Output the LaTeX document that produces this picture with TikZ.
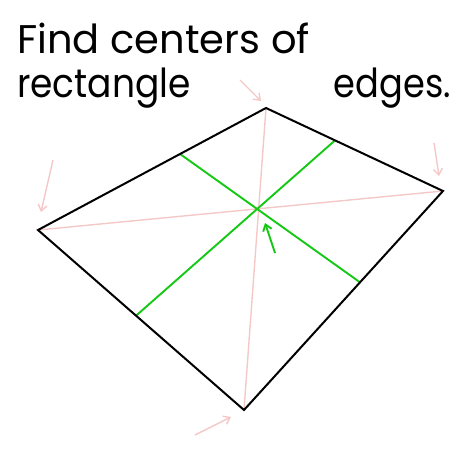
\documentclass[tikz,border=0pt]{standalone}
\usepackage{fontspec}
\setmainfont{Poppins}
\usetikzlibrary{calc,arrows.meta}
\tikzset{
  edge/.style={black, line width=2pt, line join=miter},
  diag/.style={draw={rgb,255:red,245;green,200;blue,200}, line width=1.4pt},
  mid/.style={draw={rgb,255:red,20;green,200;blue,20}, line width=1.9pt},
  pinkarrow/.style={diag, -{Straight Barb[length=6pt,width=9pt]}},
  greenarrow/.style={mid, -{Straight Barb[length=6pt,width=9pt]}},
  title/.style={inner sep=0pt, font=\fontsize{40}{40}\selectfont}
}
\begin{document}
\begin{tikzpicture}[x=1pt,y=-1pt]
\useasboundingbox (0,0) rectangle (474,474);
\coordinate (T) at (266,108);
\coordinate (R) at (443,191);
\coordinate (B) at (244,410);
\coordinate (L) at (38,230);
\node[title, anchor=base west] (t1) at (17,53) {Find centers of};
\node[title, anchor=base west] (t2) at (17,97) {\scalebox{0.9}[1]{rectangle}};
\node[title, anchor=base east] (t3) at (451,97) {\scalebox{0.88}[1]{edges.}};
% diagonals
\draw[diag] (T) -- (B);
\draw[diag] (L) -- (R);
% green lines
\coordinate (g1a) at ($(L)!0.623!(T)$);
\coordinate (g1b) at ($(R)!0.417!(B)$);
\coordinate (g2a) at ($(T)!0.39!(R)$);
\coordinate (g2b) at ($(L)!0.476!(B)$);
\draw[mid] (g1a) -- (g1b);
\draw[mid] (g2a) -- (g2b);
% quadrilateral
\draw[edge] (T) -- (R) -- (B) -- (L) -- cycle;
% arrows
\coordinate (a1s) at (240,80);  \coordinate (a1e) at (261,101);
\coordinate (a2s) at (434,143); \coordinate (a2e) at (439,176);
\coordinate (a3s) at (53,160);  \coordinate (a3e) at (41,212);
\coordinate (a4s) at (195,435); \coordinate (a4e) at (231,417);
\coordinate (a5s) at (275,253); \coordinate (a5e) at (265,223);
\draw[pinkarrow] (a1s) -- (a1e);
\draw[pinkarrow] (a2s) -- (a2e);
\draw[pinkarrow] (a3s) -- (a3e);
\draw[pinkarrow] (a4s) -- (a4e);
\draw[greenarrow] (a5s) -- (a5e);
\end{tikzpicture}
\end{document}
